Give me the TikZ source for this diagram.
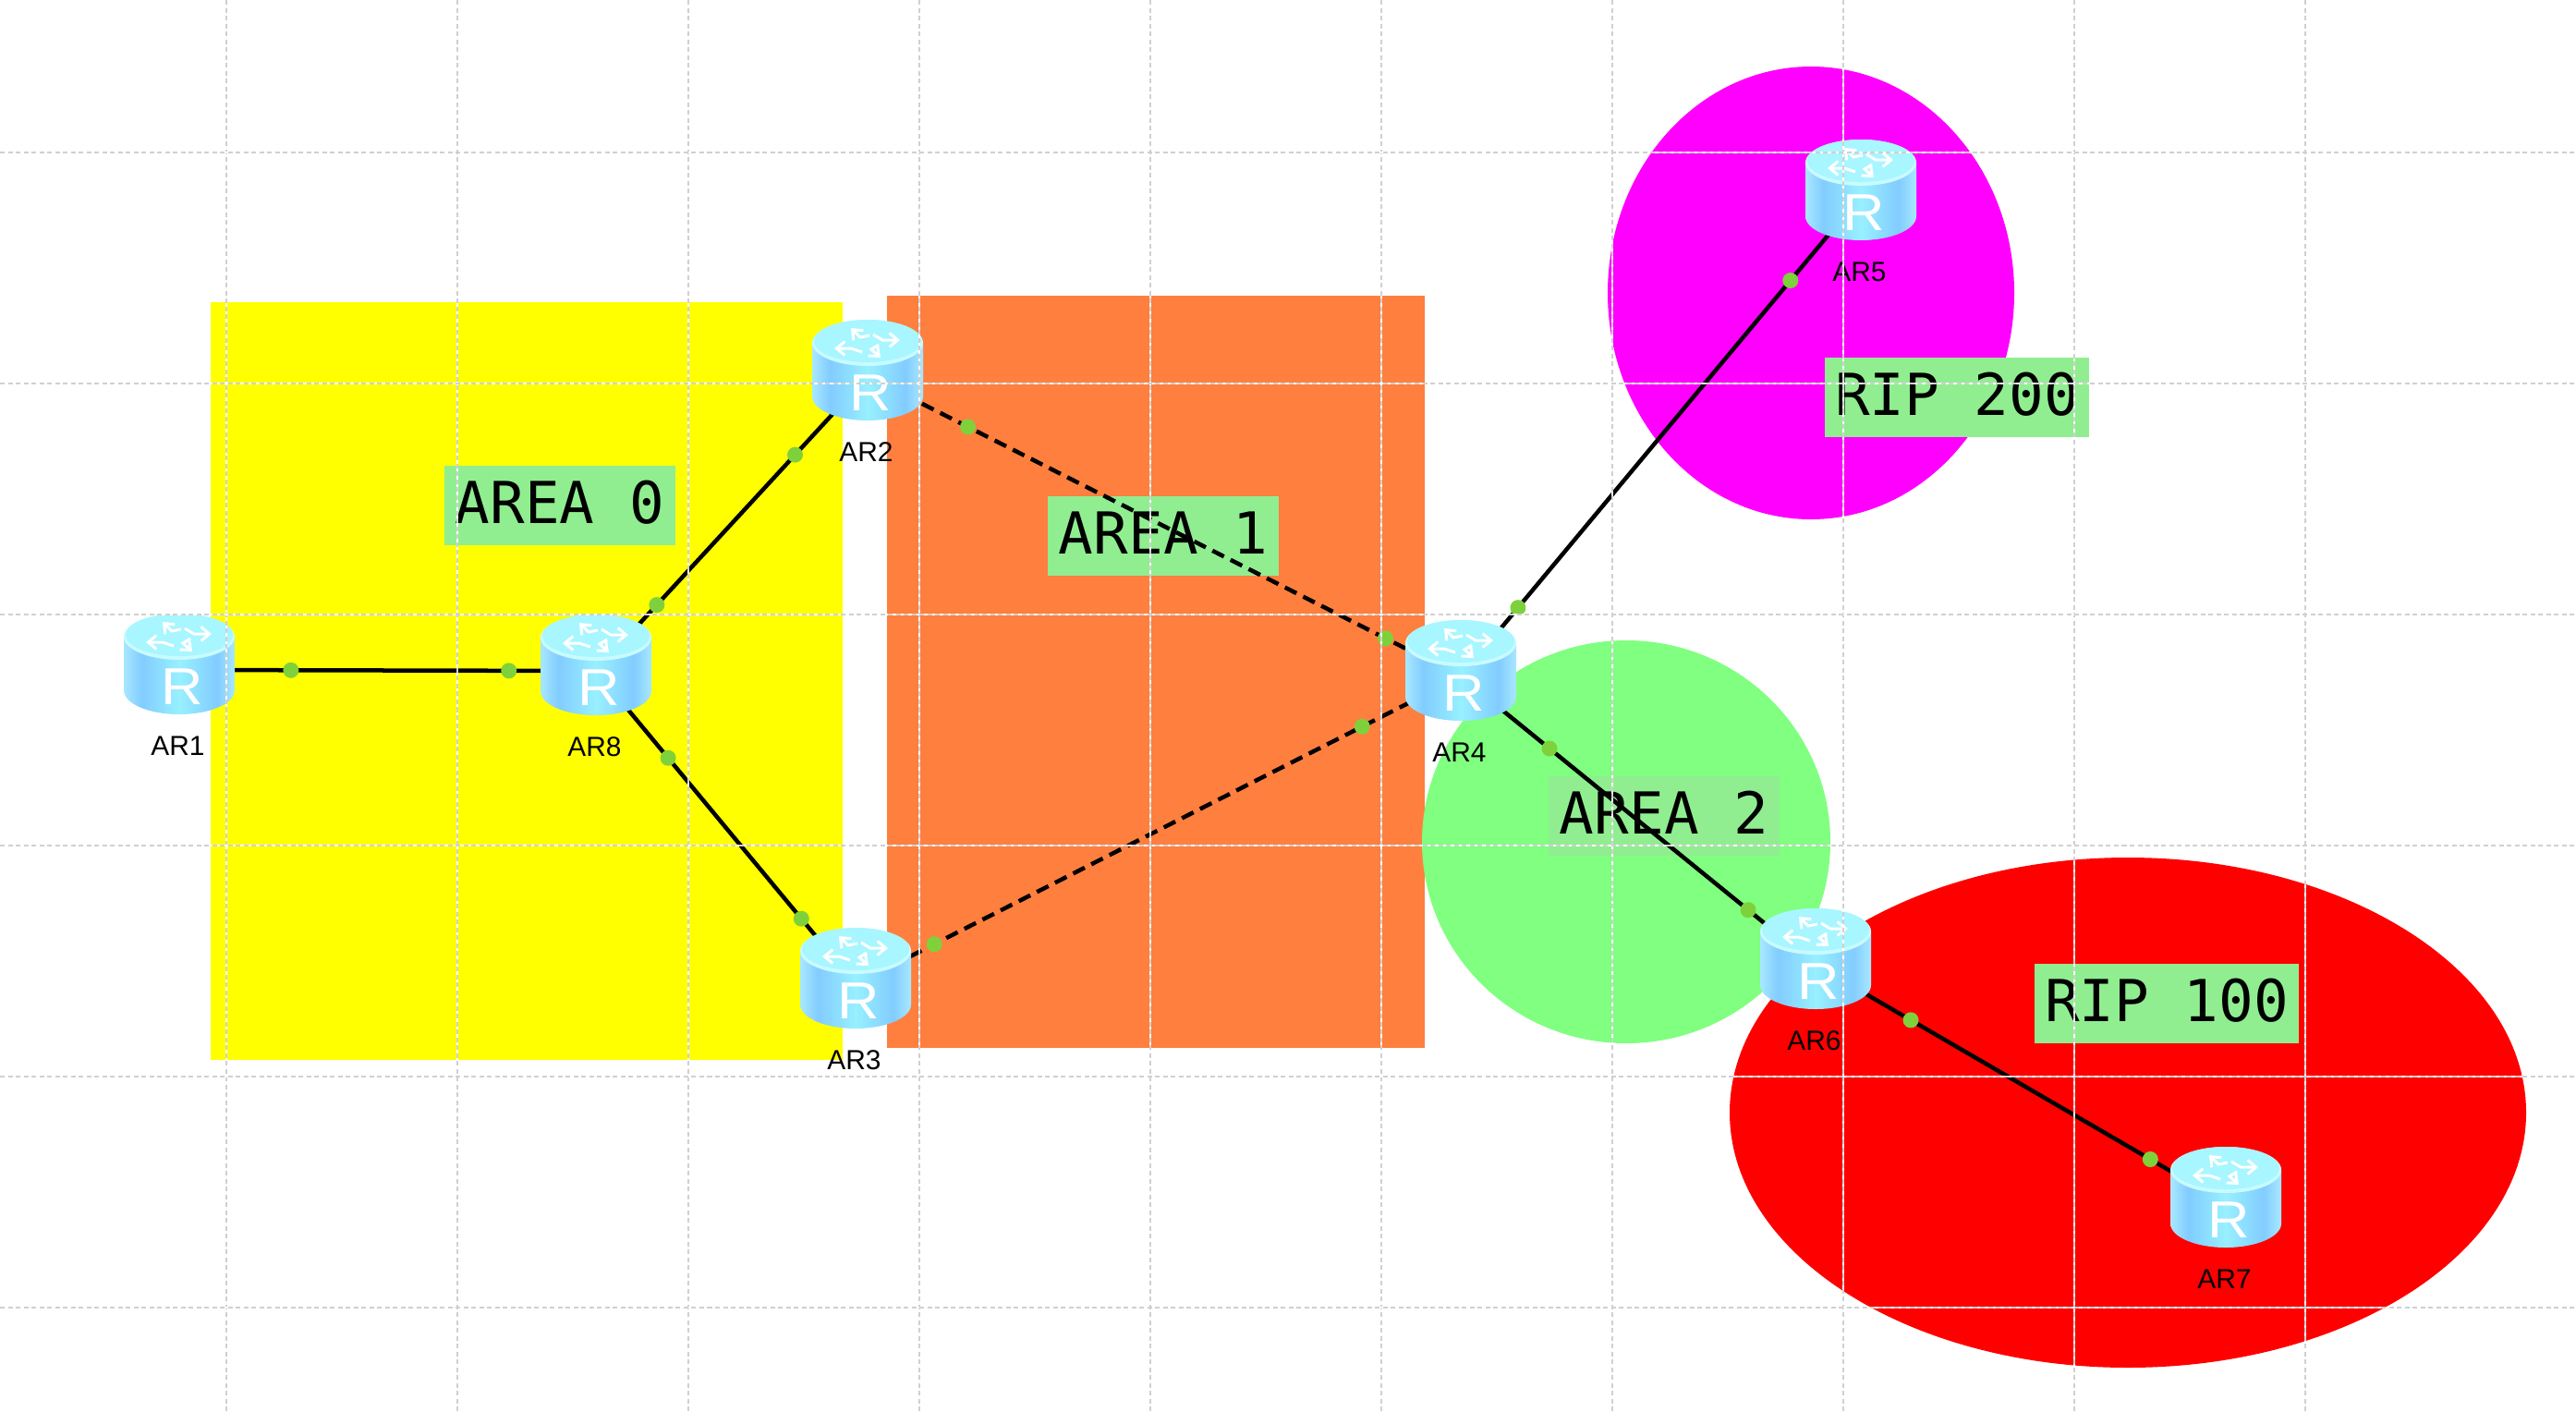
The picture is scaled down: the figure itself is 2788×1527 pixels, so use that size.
\documentclass[tikz,border=0pt]{standalone}
\usepackage{fontspec}
\setmainfont{Liberation Sans}
\setmonofont{DejaVu Sans Mono}
\usetikzlibrary{arrows.meta, positioning}
\definecolor{area0fill}{HTML}{FFFF00}
\definecolor{areagreen}{HTML}{90EE90}
\definecolor{area1fill}{HTML}{FF7F3F}
\definecolor{area2fill}{HTML}{80FF80}
\definecolor{rip200fill}{HTML}{FF00FF}
\definecolor{rip100fill}{HTML}{FF0000}
\definecolor{portgreen}{HTML}{7FD13B}
\definecolor{routertop}{HTML}{A8F6FF}
\definecolor{routerrim}{HTML}{C8FBFF}
\definecolor{routeredge}{HTML}{A8E8FF}
\definecolor{routerdark}{HTML}{82CCFF}
\definecolor{routermid}{HTML}{98F0FF}
\definecolor{gridgray}{HTML}{D0D0D0}
\pgfdeclarehorizontalshading{routerbody}{100bp}{color(0bp)=(routeredge); color(25bp)=(routeredge); color(33bp)=(routerdark); color(50bp)=(routermid); color(67bp)=(routerdark); color(75bp)=(routeredge); color(100bp)=(routeredge)}
\tikzstyle{routerbox}=[inner sep=0pt,minimum width=1.2cm,minimum height=1.4cm]
\tikzstyle{routerlabel}=[inner sep=0pt,xshift=-.015cm,font=\fontsize{8.5pt}{10pt}\selectfont]
\tikzstyle{routerletter}=[inner sep=0pt,text=white,xscale=1.12,transform shape,font=\fontsize{16pt}{18pt}\selectfont]
\tikzstyle{areabox}=[fill=areagreen,inner sep=0pt,minimum width=2.49cm,minimum height=.86cm,text depth=.07cm,font=\fontsize{17.8pt}{20pt}\ttfamily]
\tikzstyle{ripbox}=[areabox,minimum width=2.86cm]
\tikzstyle{portdot}=[circle,fill=portgreen,inner sep=0pt,minimum size=.17cm]
\tikzstyle{link}=[line width=.045cm]
\tikzstyle{dashlink}=[link,dash pattern=on .14cm off .08cm]
\tikzstyle{glyph}=[white,line width=.03cm,-{Straight Barb[length=.09cm,width=.15cm]}]
\newcommand{\routericon}[1]{%
  \begin{scope}[shift={(#1.center)}]
    \path[shading=routerbody] (-60,-36) -- (-60,22) arc[start angle=180,end angle=0,x radius=60,y radius=26] -- (60,-36) -- cycle;
    \fill[routerrim] (0,-36) ellipse[x radius=60,y radius=25];
    \fill[routertop] (0,-38) ellipse[x radius=58,y radius=23];
    \draw[glyph] (-6,-26) -- (-18,-30) -- (-36,-30);
    \draw[glyph] (2,-44) -- (-8,-42) -- (-18,-52);
    \draw[glyph] (6,-45) -- (16,-39) -- (35,-39);
    \draw[glyph] (12,-34) -- (4,-29) -- (14,-20);
    \node[routerletter] (#1R) at (3,18) {R};
  \end{scope}}

\begin{document}
\begin{tikzpicture}[x=.01cm,y=-.01cm]
  \useasboundingbox (0,0) rectangle (2788,1527);
  % regions
  \fill[area0fill] (228,327) rectangle (912,1147);
  \fill[area1fill] (960,320) rectangle (1542,1134);
  \fill[area2fill] (1760,911) ellipse[x radius=221,y radius=218];
  \fill[rip200fill] (1960,317) ellipse[x radius=220,y radius=245];
  \fill[rip100fill] (2303,1204) ellipse[x radius=431,y radius=276];
  % labels
  \node[areabox] (area0) at (606,547) {AREA 0};
  \node[areabox] (area1) at (1259,580) {AREA 1};
  \node[areabox] (area2) at (1801,883) {AREA 2};
  \node[ripbox] (rip200) at (2118,430) {RIP 200};
  \node[ripbox] (rip100) at (2345,1086) {RIP 100};
  % routers
  \node[routerbox,label={[routerlabel]below:AR1}] (AR1) at (194,725) {};
  \node[routerbox,label={[routerlabel]below:AR8}] (AR8) at (645,726) {};
  \node[routerbox,label={[routerlabel]below:AR2}] (AR2) at (939,407) {};
  \node[routerbox,label={[routerlabel]below:AR3}] (AR3) at (926,1065) {};
  \node[routerbox,label={[routerlabel]below:AR4}] (AR4) at (1581,732) {};
  \node[routerbox,label={[routerlabel]below:AR5}] (AR5) at (2014,212) {};
  \node[routerbox,label={[routerlabel]below:AR6}] (AR6) at (1965,1044) {};
  \node[routerbox,label={[routerlabel]below:AR7}] (AR7) at (2409,1302) {};
  % links
  \draw[link] (AR1.center) -- node[portdot,pos=.268] (p1) {} node[portdot,pos=.791] (p2) {} (AR8.center);
  \draw[link] (AR8.center) -- node[portdot,pos=.224] (p3) {} node[portdot,pos=.733] (p4) {} (AR2.center);
  \draw[link] (AR8.center) -- node[portdot,pos=.278] (p5) {} node[portdot,pos=.791] (p6) {} (AR3.center);
  \draw[dashlink] (AR2.center) -- node[portdot,pos=.169] (p7) {} node[portdot,pos=.873] (p8) {} (AR4.center);
  \draw[dashlink] (AR3.center) -- node[portdot,pos=.130] (p9) {} node[portdot,pos=.837] (p10) {} (AR4.center);
  \draw[link] (AR4.center) -- node[portdot,pos=.143] (p11) {} node[portdot,pos=.824] (p12) {} (AR5.center);
  \draw[link] (AR4.center) -- node[portdot,pos=.25] (p13) {} node[portdot,pos=.81] (p14) {} (AR6.center);
  \draw[link] (AR6.center) -- node[portdot,pos=.232] (p15) {} node[portdot,pos=.816] (p16) {} (AR7.center);
  \foreach \r in {AR1,AR2,AR3,AR4,AR5,AR6,AR7,AR8}
    \routericon{\r};
  % grid
  \foreach \g in {245,495,...,2495} {
    \draw[white,line width=.02cm] (\g,0) -- (\g,1527);
    \draw[gridgray,line width=.02cm,dash pattern=on .05cm off .035cm] (\g,0) -- (\g,1527);
  }
  \foreach \g in {165,415,...,1415} {
    \draw[white,line width=.02cm] (0,\g) -- (2788,\g);
    \draw[gridgray,line width=.02cm,dash pattern=on .05cm off .035cm] (0,\g) -- (2788,\g);
  }
\end{tikzpicture}
\end{document}
